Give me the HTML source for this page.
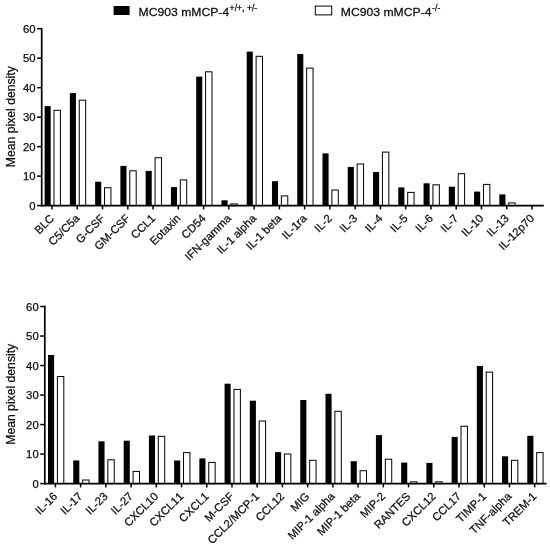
<!DOCTYPE html>
<html><head><meta charset="utf-8"><title>Cytokine array</title>
<style>
html,body{margin:0;padding:0;background:#fff;}
body{width:550px;height:547px;overflow:hidden;}
svg{display:block;}
svg text{font-family:'Liberation Sans', Arial, sans-serif;fill:#0d0d0d;stroke:#0d0d0d;stroke-width:0.25px;font-kerning:none;font-feature-settings:"kern" 0;}
</style></head><body>
<svg width="550" height="547" viewBox="0 0 550 547">
<rect width="550" height="547" fill="#fff"/>

<rect x="113.6" y="6" width="16" height="9" fill="#000"/>
<text transform="translate(138.5,15.5) scale(1.042,1)" font-size="11.7">MC903 mMCP-4</text>
<text transform="translate(229.6,10.7) scale(1.03,1)" font-size="8.4">+/+, +/-</text>
<rect x="315.3" y="6.1" width="16.4" height="8.8" fill="#fff" stroke="#000" stroke-width="1"/>
<text transform="translate(340.8,15.5) scale(1.042,1)" font-size="11.7">MC903 mMCP-4</text>
<text transform="translate(432.1,10.7) scale(1.03,1)" font-size="8.4">-/-</text>

<rect x="44.60" y="106.10" width="6.1" height="99.50" fill="#000"/>
<rect x="54.00" y="110.30" width="6.4" height="95.30" fill="#fff" stroke="#000" stroke-width="1"/>
<rect x="69.86" y="93.10" width="6.1" height="112.50" fill="#000"/>
<rect x="79.26" y="100.20" width="6.4" height="105.40" fill="#fff" stroke="#000" stroke-width="1"/>
<rect x="95.13" y="181.70" width="6.1" height="23.90" fill="#000"/>
<rect x="104.53" y="187.70" width="6.4" height="17.90" fill="#fff" stroke="#000" stroke-width="1"/>
<rect x="120.39" y="165.90" width="6.1" height="39.70" fill="#000"/>
<rect x="129.79" y="170.80" width="6.4" height="34.80" fill="#fff" stroke="#000" stroke-width="1"/>
<rect x="145.65" y="170.90" width="6.1" height="34.70" fill="#000"/>
<rect x="155.05" y="157.70" width="6.4" height="47.90" fill="#fff" stroke="#000" stroke-width="1"/>
<rect x="170.91" y="187.10" width="6.1" height="18.50" fill="#000"/>
<rect x="180.31" y="179.90" width="6.4" height="25.70" fill="#fff" stroke="#000" stroke-width="1"/>
<rect x="196.18" y="76.60" width="6.1" height="129.00" fill="#000"/>
<rect x="205.58" y="71.80" width="6.4" height="133.80" fill="#fff" stroke="#000" stroke-width="1"/>
<rect x="221.44" y="200.30" width="6.1" height="5.30" fill="#000"/>
<rect x="230.84" y="203.90" width="6.4" height="1.70" fill="#fff" stroke="#000" stroke-width="1"/>
<rect x="246.70" y="51.60" width="6.1" height="154.00" fill="#000"/>
<rect x="256.10" y="56.30" width="6.4" height="149.30" fill="#fff" stroke="#000" stroke-width="1"/>
<rect x="271.97" y="181.20" width="6.1" height="24.40" fill="#000"/>
<rect x="281.37" y="195.90" width="6.4" height="9.70" fill="#fff" stroke="#000" stroke-width="1"/>
<rect x="297.23" y="54.00" width="6.1" height="151.60" fill="#000"/>
<rect x="306.63" y="68.10" width="6.4" height="137.50" fill="#fff" stroke="#000" stroke-width="1"/>
<rect x="322.49" y="153.40" width="6.1" height="52.20" fill="#000"/>
<rect x="331.89" y="190.00" width="6.4" height="15.60" fill="#fff" stroke="#000" stroke-width="1"/>
<rect x="347.76" y="166.90" width="6.1" height="38.70" fill="#000"/>
<rect x="357.16" y="164.00" width="6.4" height="41.60" fill="#fff" stroke="#000" stroke-width="1"/>
<rect x="373.02" y="172.10" width="6.1" height="33.50" fill="#000"/>
<rect x="382.42" y="152.10" width="6.4" height="53.50" fill="#fff" stroke="#000" stroke-width="1"/>
<rect x="398.28" y="187.40" width="6.1" height="18.20" fill="#000"/>
<rect x="407.68" y="192.40" width="6.4" height="13.20" fill="#fff" stroke="#000" stroke-width="1"/>
<rect x="423.55" y="183.30" width="6.1" height="22.30" fill="#000"/>
<rect x="432.95" y="184.80" width="6.4" height="20.80" fill="#fff" stroke="#000" stroke-width="1"/>
<rect x="448.81" y="186.70" width="6.1" height="18.90" fill="#000"/>
<rect x="458.21" y="173.70" width="6.4" height="31.90" fill="#fff" stroke="#000" stroke-width="1"/>
<rect x="474.07" y="191.60" width="6.1" height="14.00" fill="#000"/>
<rect x="483.47" y="184.40" width="6.4" height="21.20" fill="#fff" stroke="#000" stroke-width="1"/>
<rect x="499.33" y="194.40" width="6.1" height="11.20" fill="#000"/>
<rect x="508.73" y="202.90" width="6.4" height="2.70" fill="#fff" stroke="#000" stroke-width="1"/>
<line x1="41.7" y1="27.85" x2="41.7" y2="206.45" stroke="#000" stroke-width="1.7"/>
<line x1="40.85" y1="205.6" x2="543.8" y2="205.6" stroke="#000" stroke-width="1.7"/>
<line x1="37.10" y1="205.60" x2="41.7" y2="205.60" stroke="#000" stroke-width="1.5"/>
<text x="35.60" y="209.70" text-anchor="end" font-size="11.3">0</text>
<line x1="37.10" y1="176.12" x2="41.7" y2="176.12" stroke="#000" stroke-width="1.5"/>
<text x="35.60" y="180.22" text-anchor="end" font-size="11.3">10</text>
<line x1="37.10" y1="146.63" x2="41.7" y2="146.63" stroke="#000" stroke-width="1.5"/>
<text x="35.60" y="150.73" text-anchor="end" font-size="11.3">20</text>
<line x1="37.10" y1="117.15" x2="41.7" y2="117.15" stroke="#000" stroke-width="1.5"/>
<text x="35.60" y="121.25" text-anchor="end" font-size="11.3">30</text>
<line x1="37.10" y1="87.67" x2="41.7" y2="87.67" stroke="#000" stroke-width="1.5"/>
<text x="35.60" y="91.77" text-anchor="end" font-size="11.3">40</text>
<line x1="37.10" y1="58.18" x2="41.7" y2="58.18" stroke="#000" stroke-width="1.5"/>
<text x="35.60" y="62.28" text-anchor="end" font-size="11.3">50</text>
<line x1="37.10" y1="28.70" x2="41.7" y2="28.70" stroke="#000" stroke-width="1.5"/>
<text x="35.60" y="32.80" text-anchor="end" font-size="11.3">60</text>
<line x1="52.00" y1="205.6" x2="52.00" y2="209.40" stroke="#000" stroke-width="1.5"/>
<text transform="translate(52.00,216.30) rotate(-45)" x="0" y="4" text-anchor="end" font-size="11.3">BLC</text>
<line x1="77.26" y1="205.6" x2="77.26" y2="209.40" stroke="#000" stroke-width="1.5"/>
<text transform="translate(77.26,216.30) rotate(-45)" x="0" y="4" text-anchor="end" font-size="11.3">C5/C5a</text>
<line x1="102.53" y1="205.6" x2="102.53" y2="209.40" stroke="#000" stroke-width="1.5"/>
<text transform="translate(102.53,216.30) rotate(-45)" x="0" y="4" text-anchor="end" font-size="11.3">G-CSF</text>
<line x1="127.79" y1="205.6" x2="127.79" y2="209.40" stroke="#000" stroke-width="1.5"/>
<text transform="translate(127.79,216.30) rotate(-45)" x="0" y="4" text-anchor="end" font-size="11.3">GM-CSF</text>
<line x1="153.05" y1="205.6" x2="153.05" y2="209.40" stroke="#000" stroke-width="1.5"/>
<text transform="translate(153.05,216.30) rotate(-45)" x="0" y="4" text-anchor="end" font-size="11.3">CCL1</text>
<line x1="178.31" y1="205.6" x2="178.31" y2="209.40" stroke="#000" stroke-width="1.5"/>
<text transform="translate(178.31,216.30) rotate(-45)" x="0" y="4" text-anchor="end" font-size="11.3">Eotaxin</text>
<line x1="203.58" y1="205.6" x2="203.58" y2="209.40" stroke="#000" stroke-width="1.5"/>
<text transform="translate(203.58,216.30) rotate(-45)" x="0" y="4" text-anchor="end" font-size="11.3">CD54</text>
<line x1="228.84" y1="205.6" x2="228.84" y2="209.40" stroke="#000" stroke-width="1.5"/>
<text transform="translate(228.84,216.30) rotate(-45)" x="0" y="4" text-anchor="end" font-size="11.3">IFN-gamma</text>
<line x1="254.10" y1="205.6" x2="254.10" y2="209.40" stroke="#000" stroke-width="1.5"/>
<text transform="translate(254.10,216.30) rotate(-45)" x="0" y="4" text-anchor="end" font-size="11.3">IL-1 alpha</text>
<line x1="279.37" y1="205.6" x2="279.37" y2="209.40" stroke="#000" stroke-width="1.5"/>
<text transform="translate(279.37,216.30) rotate(-45)" x="0" y="4" text-anchor="end" font-size="11.3">IL-1 beta</text>
<line x1="304.63" y1="205.6" x2="304.63" y2="209.40" stroke="#000" stroke-width="1.5"/>
<text transform="translate(304.63,216.30) rotate(-45)" x="0" y="4" text-anchor="end" font-size="11.3">IL-1ra</text>
<line x1="329.89" y1="205.6" x2="329.89" y2="209.40" stroke="#000" stroke-width="1.5"/>
<text transform="translate(329.89,216.30) rotate(-45)" x="0" y="4" text-anchor="end" font-size="11.3">IL-2</text>
<line x1="355.16" y1="205.6" x2="355.16" y2="209.40" stroke="#000" stroke-width="1.5"/>
<text transform="translate(355.16,216.30) rotate(-45)" x="0" y="4" text-anchor="end" font-size="11.3">IL-3</text>
<line x1="380.42" y1="205.6" x2="380.42" y2="209.40" stroke="#000" stroke-width="1.5"/>
<text transform="translate(380.42,216.30) rotate(-45)" x="0" y="4" text-anchor="end" font-size="11.3">IL-4</text>
<line x1="405.68" y1="205.6" x2="405.68" y2="209.40" stroke="#000" stroke-width="1.5"/>
<text transform="translate(405.68,216.30) rotate(-45)" x="0" y="4" text-anchor="end" font-size="11.3">IL-5</text>
<line x1="430.95" y1="205.6" x2="430.95" y2="209.40" stroke="#000" stroke-width="1.5"/>
<text transform="translate(430.95,216.30) rotate(-45)" x="0" y="4" text-anchor="end" font-size="11.3">IL-6</text>
<line x1="456.21" y1="205.6" x2="456.21" y2="209.40" stroke="#000" stroke-width="1.5"/>
<text transform="translate(456.21,216.30) rotate(-45)" x="0" y="4" text-anchor="end" font-size="11.3">IL-7</text>
<line x1="481.47" y1="205.6" x2="481.47" y2="209.40" stroke="#000" stroke-width="1.5"/>
<text transform="translate(481.47,216.30) rotate(-45)" x="0" y="4" text-anchor="end" font-size="11.3">IL-10</text>
<line x1="506.73" y1="205.6" x2="506.73" y2="209.40" stroke="#000" stroke-width="1.5"/>
<text transform="translate(506.73,216.30) rotate(-45)" x="0" y="4" text-anchor="end" font-size="11.3">IL-13</text>
<line x1="532.00" y1="205.6" x2="532.00" y2="209.40" stroke="#000" stroke-width="1.5"/>
<text transform="translate(532.00,216.30) rotate(-45)" x="0" y="4" text-anchor="end" font-size="11.3">IL-12p70</text>
<text transform="translate(14.5,116.7) rotate(-90)" text-anchor="middle" font-size="12.2">Mean pixel density</text>
<rect x="48.00" y="355.00" width="6.1" height="128.60" fill="#000"/>
<rect x="57.40" y="376.50" width="6.4" height="107.10" fill="#fff" stroke="#000" stroke-width="1"/>
<rect x="73.22" y="460.40" width="6.1" height="23.20" fill="#000"/>
<rect x="82.62" y="480.00" width="6.4" height="3.60" fill="#fff" stroke="#000" stroke-width="1"/>
<rect x="98.45" y="441.30" width="6.1" height="42.30" fill="#000"/>
<rect x="107.85" y="459.80" width="6.4" height="23.80" fill="#fff" stroke="#000" stroke-width="1"/>
<rect x="123.68" y="440.70" width="6.1" height="42.90" fill="#000"/>
<rect x="133.08" y="471.40" width="6.4" height="12.20" fill="#fff" stroke="#000" stroke-width="1"/>
<rect x="148.90" y="435.50" width="6.1" height="48.10" fill="#000"/>
<rect x="158.30" y="436.30" width="6.4" height="47.30" fill="#fff" stroke="#000" stroke-width="1"/>
<rect x="174.12" y="460.50" width="6.1" height="23.10" fill="#000"/>
<rect x="183.53" y="452.60" width="6.4" height="31.00" fill="#fff" stroke="#000" stroke-width="1"/>
<rect x="199.35" y="458.40" width="6.1" height="25.20" fill="#000"/>
<rect x="208.75" y="462.40" width="6.4" height="21.20" fill="#fff" stroke="#000" stroke-width="1"/>
<rect x="224.58" y="383.70" width="6.1" height="99.90" fill="#000"/>
<rect x="233.98" y="389.40" width="6.4" height="94.20" fill="#fff" stroke="#000" stroke-width="1"/>
<rect x="249.80" y="400.70" width="6.1" height="82.90" fill="#000"/>
<rect x="259.20" y="421.00" width="6.4" height="62.60" fill="#fff" stroke="#000" stroke-width="1"/>
<rect x="275.03" y="452.10" width="6.1" height="31.50" fill="#000"/>
<rect x="284.43" y="454.00" width="6.4" height="29.60" fill="#fff" stroke="#000" stroke-width="1"/>
<rect x="300.25" y="400.00" width="6.1" height="83.60" fill="#000"/>
<rect x="309.65" y="460.30" width="6.4" height="23.30" fill="#fff" stroke="#000" stroke-width="1"/>
<rect x="325.48" y="393.80" width="6.1" height="89.80" fill="#000"/>
<rect x="334.88" y="411.30" width="6.4" height="72.30" fill="#fff" stroke="#000" stroke-width="1"/>
<rect x="350.70" y="461.20" width="6.1" height="22.40" fill="#000"/>
<rect x="360.10" y="470.70" width="6.4" height="12.90" fill="#fff" stroke="#000" stroke-width="1"/>
<rect x="375.93" y="435.10" width="6.1" height="48.50" fill="#000"/>
<rect x="385.32" y="459.20" width="6.4" height="24.40" fill="#fff" stroke="#000" stroke-width="1"/>
<rect x="401.15" y="462.60" width="6.1" height="21.00" fill="#000"/>
<rect x="410.55" y="481.80" width="6.4" height="1.80" fill="#fff" stroke="#000" stroke-width="1"/>
<rect x="426.38" y="462.90" width="6.1" height="20.70" fill="#000"/>
<rect x="435.77" y="481.80" width="6.4" height="1.80" fill="#fff" stroke="#000" stroke-width="1"/>
<rect x="451.60" y="436.90" width="6.1" height="46.70" fill="#000"/>
<rect x="461.00" y="426.20" width="6.4" height="57.40" fill="#fff" stroke="#000" stroke-width="1"/>
<rect x="476.83" y="366.00" width="6.1" height="117.60" fill="#000"/>
<rect x="486.23" y="372.10" width="6.4" height="111.50" fill="#fff" stroke="#000" stroke-width="1"/>
<rect x="502.05" y="456.30" width="6.1" height="27.30" fill="#000"/>
<rect x="511.45" y="460.30" width="6.4" height="23.30" fill="#fff" stroke="#000" stroke-width="1"/>
<rect x="527.28" y="435.80" width="6.1" height="47.80" fill="#000"/>
<rect x="536.68" y="452.60" width="6.4" height="31.00" fill="#fff" stroke="#000" stroke-width="1"/>
<line x1="44.8" y1="305.65" x2="44.8" y2="484.45" stroke="#000" stroke-width="1.7"/>
<line x1="43.95" y1="483.6" x2="546.5" y2="483.6" stroke="#000" stroke-width="1.7"/>
<line x1="40.20" y1="483.60" x2="44.8" y2="483.60" stroke="#000" stroke-width="1.5"/>
<text x="38.70" y="487.70" text-anchor="end" font-size="11.3">0</text>
<line x1="40.20" y1="454.08" x2="44.8" y2="454.08" stroke="#000" stroke-width="1.5"/>
<text x="38.70" y="458.18" text-anchor="end" font-size="11.3">10</text>
<line x1="40.20" y1="424.57" x2="44.8" y2="424.57" stroke="#000" stroke-width="1.5"/>
<text x="38.70" y="428.67" text-anchor="end" font-size="11.3">20</text>
<line x1="40.20" y1="395.05" x2="44.8" y2="395.05" stroke="#000" stroke-width="1.5"/>
<text x="38.70" y="399.15" text-anchor="end" font-size="11.3">30</text>
<line x1="40.20" y1="365.53" x2="44.8" y2="365.53" stroke="#000" stroke-width="1.5"/>
<text x="38.70" y="369.63" text-anchor="end" font-size="11.3">40</text>
<line x1="40.20" y1="336.02" x2="44.8" y2="336.02" stroke="#000" stroke-width="1.5"/>
<text x="38.70" y="340.12" text-anchor="end" font-size="11.3">50</text>
<line x1="40.20" y1="306.50" x2="44.8" y2="306.50" stroke="#000" stroke-width="1.5"/>
<text x="38.70" y="310.60" text-anchor="end" font-size="11.3">60</text>
<line x1="55.40" y1="483.6" x2="55.40" y2="487.40" stroke="#000" stroke-width="1.5"/>
<text transform="translate(55.20,494.30) rotate(-45)" x="0" y="4" text-anchor="end" font-size="11.3">IL-16</text>
<line x1="80.62" y1="483.6" x2="80.62" y2="487.40" stroke="#000" stroke-width="1.5"/>
<text transform="translate(80.42,494.30) rotate(-45)" x="0" y="4" text-anchor="end" font-size="11.3">IL-17</text>
<line x1="105.85" y1="483.6" x2="105.85" y2="487.40" stroke="#000" stroke-width="1.5"/>
<text transform="translate(105.65,494.30) rotate(-45)" x="0" y="4" text-anchor="end" font-size="11.3">IL-23</text>
<line x1="131.08" y1="483.6" x2="131.08" y2="487.40" stroke="#000" stroke-width="1.5"/>
<text transform="translate(130.88,494.30) rotate(-45)" x="0" y="4" text-anchor="end" font-size="11.3">IL-27</text>
<line x1="156.30" y1="483.6" x2="156.30" y2="487.40" stroke="#000" stroke-width="1.5"/>
<text transform="translate(156.10,494.30) rotate(-45)" x="0" y="4" text-anchor="end" font-size="11.3">CXCL10</text>
<line x1="181.53" y1="483.6" x2="181.53" y2="487.40" stroke="#000" stroke-width="1.5"/>
<text transform="translate(181.33,494.30) rotate(-45)" x="0" y="4" text-anchor="end" font-size="11.3">CXCL11</text>
<line x1="206.75" y1="483.6" x2="206.75" y2="487.40" stroke="#000" stroke-width="1.5"/>
<text transform="translate(206.55,494.30) rotate(-45)" x="0" y="4" text-anchor="end" font-size="11.3">CXCL1</text>
<line x1="231.98" y1="483.6" x2="231.98" y2="487.40" stroke="#000" stroke-width="1.5"/>
<text transform="translate(231.78,494.30) rotate(-45)" x="0" y="4" text-anchor="end" font-size="11.3">M-CSF</text>
<line x1="257.20" y1="483.6" x2="257.20" y2="487.40" stroke="#000" stroke-width="1.5"/>
<text transform="translate(257.00,494.30) rotate(-45)" x="0" y="4" text-anchor="end" font-size="11.3">CCL2/MCP-1</text>
<line x1="282.43" y1="483.6" x2="282.43" y2="487.40" stroke="#000" stroke-width="1.5"/>
<text transform="translate(282.23,494.30) rotate(-45)" x="0" y="4" text-anchor="end" font-size="11.3">CCL12</text>
<line x1="307.65" y1="483.6" x2="307.65" y2="487.40" stroke="#000" stroke-width="1.5"/>
<text transform="translate(307.45,494.30) rotate(-45)" x="0" y="4" text-anchor="end" font-size="11.3">MIG</text>
<line x1="332.88" y1="483.6" x2="332.88" y2="487.40" stroke="#000" stroke-width="1.5"/>
<text transform="translate(332.68,494.30) rotate(-45)" x="0" y="4" text-anchor="end" font-size="11.3">MIP-1 alpha</text>
<line x1="358.10" y1="483.6" x2="358.10" y2="487.40" stroke="#000" stroke-width="1.5"/>
<text transform="translate(357.90,494.30) rotate(-45)" x="0" y="4" text-anchor="end" font-size="11.3">MIP-1 beta</text>
<line x1="383.32" y1="483.6" x2="383.32" y2="487.40" stroke="#000" stroke-width="1.5"/>
<text transform="translate(383.12,494.30) rotate(-45)" x="0" y="4" text-anchor="end" font-size="11.3">MIP-2</text>
<line x1="408.55" y1="483.6" x2="408.55" y2="487.40" stroke="#000" stroke-width="1.5"/>
<text transform="translate(408.35,494.30) rotate(-45)" x="0" y="4" text-anchor="end" font-size="11.3">RANTES</text>
<line x1="433.77" y1="483.6" x2="433.77" y2="487.40" stroke="#000" stroke-width="1.5"/>
<text transform="translate(433.57,494.30) rotate(-45)" x="0" y="4" text-anchor="end" font-size="11.3">CXCL12</text>
<line x1="459.00" y1="483.6" x2="459.00" y2="487.40" stroke="#000" stroke-width="1.5"/>
<text transform="translate(458.80,494.30) rotate(-45)" x="0" y="4" text-anchor="end" font-size="11.3">CCL17</text>
<line x1="484.23" y1="483.6" x2="484.23" y2="487.40" stroke="#000" stroke-width="1.5"/>
<text transform="translate(484.03,494.30) rotate(-45)" x="0" y="4" text-anchor="end" font-size="11.3">TIMP-1</text>
<line x1="509.45" y1="483.6" x2="509.45" y2="487.40" stroke="#000" stroke-width="1.5"/>
<text transform="translate(509.25,494.30) rotate(-45)" x="0" y="4" text-anchor="end" font-size="11.3">TNF-alpha</text>
<line x1="534.68" y1="483.6" x2="534.68" y2="487.40" stroke="#000" stroke-width="1.5"/>
<text transform="translate(534.48,494.30) rotate(-45)" x="0" y="4" text-anchor="end" font-size="11.3">TREM-1</text>
<text transform="translate(14.5,394.3) rotate(-90)" text-anchor="middle" font-size="12.2">Mean pixel density</text>
</svg>
</body></html>
